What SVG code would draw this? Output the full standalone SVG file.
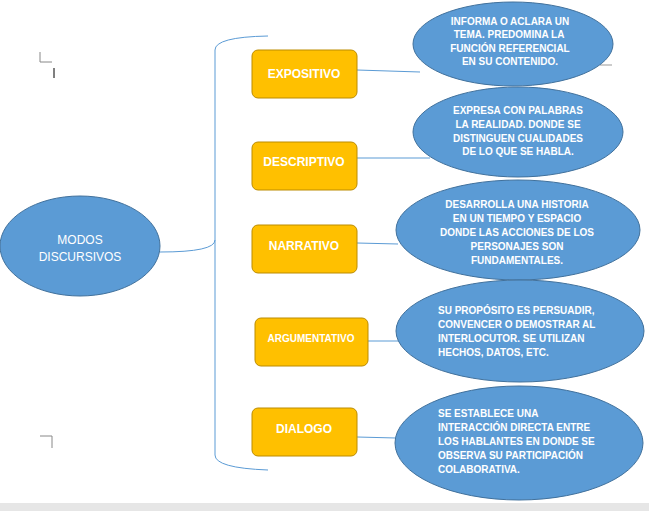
<svg xmlns="http://www.w3.org/2000/svg" width="649" height="511" viewBox="0 0 649 511">
<style>
.e{fill:#5b9bd5;stroke:#41719c;stroke-width:1}
.b{fill:#ffc000;stroke:#bc8c00;stroke-width:1}
.t{font-family:"Liberation Sans",Arial,sans-serif;font-weight:bold;fill:#fff;font-size:10px;text-anchor:middle}
.bt{font-family:"Liberation Sans",Arial,sans-serif;font-weight:bold;fill:#fff;font-size:12px;text-anchor:middle}
.c{fill:none;stroke:#5b9bd5;stroke-width:1}
</style>
<rect width="649" height="511" fill="#fff"/>
<rect y="503" width="649" height="8" fill="#e6e6e6"/>
<g stroke="#888" fill="none" stroke-width="1">
<path d="M40 52V62H52"/><path d="M40 436H52V448" transform="translate(0,0)"/>
</g>
<line x1="54" y1="68" x2="54" y2="78" stroke="#000"/>
<g id="connectors">
<path class="c" d="M160 252Q215 252 215 240V50Q215 37 268 36"/>
<path class="c" d="M215 240V455Q215 468 268 470"/>
<line class="c" x1="357" y1="70" x2="420" y2="72"/>
<line x1="600" y1="65" x2="612" y2="65" stroke="#999"/>
<line class="c" x1="357" y1="158" x2="430" y2="158"/>
<line class="c" x1="357" y1="243" x2="398" y2="244"/>
<line class="c" x1="368" y1="341" x2="398" y2="341"/>
<line class="c" x1="357" y1="437" x2="396" y2="438"/>
</g>
<g id="root"><ellipse class="e" cx="80" cy="246" rx="80" ry="50"/>
<text class="bt" x="80" y="244" font-weight="normal" style="font-weight:normal">MODOS</text>
<text class="bt" x="80" y="261" style="font-weight:normal">DISCURSIVOS</text></g>
<g id="b1"><rect class="b" x="252" y="50" width="105" height="48" rx="6"/><text class="bt" x="304" y="78">EXPOSITIVO</text></g>
<g id="b2"><rect class="b" x="252" y="142" width="105" height="48" rx="6"/><text class="bt" x="304" y="166">DESCRIPTIVO</text></g>
<g id="b3"><rect class="b" x="252" y="225" width="105" height="48" rx="6"/><text class="bt" x="304" y="250">NARRATIVO</text></g>
<g id="b4"><rect class="b" x="255" y="318" width="113" height="48" rx="6"/><text class="bt" x="311" y="342" style="font-size:10px">ARGUMENTATIVO</text></g>
<g id="b5"><rect class="b" x="252" y="408" width="105" height="48" rx="6"/><text class="bt" x="304" y="433">DIALOGO</text></g>
<g id="e1"><ellipse class="e" cx="513" cy="44" rx="100" ry="42"/>
<text class="t" x="510" y="25">INFORMA O ACLARA UN</text><text class="t" x="509" y="38">TEMA. PREDOMINA LA</text><text class="t" x="510" y="52">FUNCIÓN REFERENCIAL</text><text class="t" x="510" y="65">EN SU CONTENIDO.</text></g>
<g id="e2"><ellipse class="e" cx="518" cy="132" rx="105" ry="45"/>
<text class="t" x="518" y="114">EXPRESA CON PALABRAS</text><text class="t" x="518" y="128">LA REALIDAD. DONDE SE</text><text class="t" x="518" y="142">DISTINGUEN CUALIDADES</text><text class="t" x="518" y="155">DE LO QUE SE HABLA.</text></g>
<g id="e3"><ellipse class="e" cx="518" cy="230" rx="122" ry="50"/>
<text class="t" x="517" y="208">DESARROLLA UNA HISTORIA</text><text class="t" x="517" y="222">EN UN TIEMPO Y ESPACIO</text><text class="t" x="517" y="236">DONDE LAS ACCIONES DE LOS</text><text class="t" x="517" y="250">PERSONAJES SON</text><text class="t" x="517" y="264">FUNDAMENTALES.</text></g>
<g id="e4"><ellipse class="e" cx="520" cy="331" rx="124" ry="51"/>
<g style="text-anchor:start"><text class="t" x="438" y="314" style="text-anchor:start">SU PROPÓSITO ES PERSUADIR,</text><text class="t" x="438" y="328" style="text-anchor:start">CONVENCER O DEMOSTRAR AL</text><text class="t" x="438" y="342" style="text-anchor:start">INTERLOCUTOR. SE UTILIZAN</text><text class="t" x="438" y="356" style="text-anchor:start">HECHOS, DATOS, ETC.</text></g></g>
<g id="e5"><ellipse class="e" cx="519" cy="443" rx="124" ry="57"/>
<text class="t" x="438" y="417" style="text-anchor:start">SE ESTABLECE UNA</text><text class="t" x="438" y="431" style="text-anchor:start">INTERACCIÓN DIRECTA ENTRE</text><text class="t" x="438" y="445" style="text-anchor:start">LOS HABLANTES EN DONDE SE</text><text class="t" x="438" y="459" style="text-anchor:start">OBSERVA SU PARTICIPACIÓN</text><text class="t" x="438" y="473" style="text-anchor:start">COLABORATIVA.</text></g>
</svg>
